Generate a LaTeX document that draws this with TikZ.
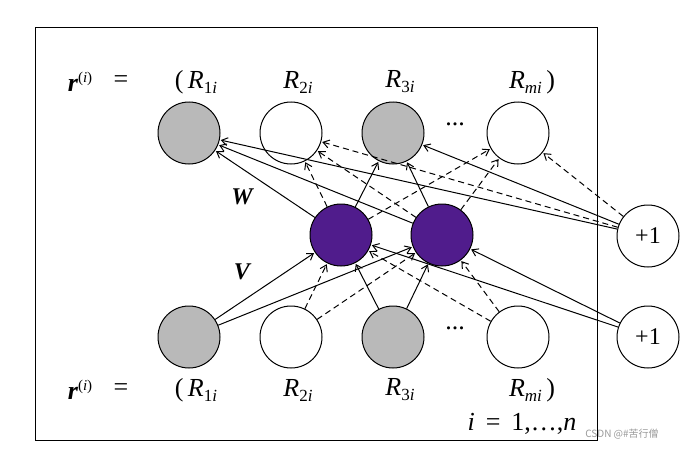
\documentclass[tikz,border=0pt]{standalone}
\usepackage{fontspec}
\setmainfont{Liberation Serif}
\newfontfamily\cjk{Noto Sans CJK SC}
\usetikzlibrary{arrows.meta}
\definecolor{hidc}{RGB}{80,28,140}
\begin{document}
\begin{tikzpicture}[x=1pt,y=-1pt,
  nd/.style={circle,draw,line width=1pt,minimum size=62pt,inner sep=0pt},
  gr/.style={nd,fill=gray!55},
  wh/.style={nd,fill=white},
  hid/.style={nd,fill=hidc},
  sl/.style={-{Straight Barb[length=6pt,width=8pt]},line width=1pt,shorten >=1pt},
  ds/.style={sl,dash pattern=on 6pt off 4pt},
  lab/.style={font=\fontsize{26}{28}\selectfont}]
\useasboundingbox (0,0) rectangle (690,452);
\draw[line width=1pt] (35,28) rectangle (597,440);
\node[gr] (t1) at (189,133) {};
\node[wh] (t2) at (291,133) {};
\node[gr] (t3) at (393,133) {};
\node[wh] (tm) at (518,133) {};
\node[hid] (h1) at (341,235) {};
\node[hid] (h2) at (442,235) {};
\node[gr] (b1) at (189,337) {};
\node[wh] (b2) at (291,337) {};
\node[gr] (b3) at (393,337) {};
\node[wh] (bm) at (518,337) {};
\node[wh,font=\fontsize{24}{26}\selectfont] (pu) at (648,236) {+1};
\node[wh,font=\fontsize{24}{26}\selectfont] (pl) at (648,337) {+1};
\node[lab] (d1) at (455,124) {...};
\node[lab] (d2) at (455,328) {...};
\foreach \h in {h1,h2}{
  \draw[sl] (b1) -- (\h); \draw[ds] (b2) -- (\h);
  \draw[sl] (b3) -- (\h); \draw[ds] (bm) -- (\h);
  \draw[sl] (pl) -- (\h);
  \draw[sl] (\h) -- (t1); \draw[ds] (\h) -- (t2);
  \draw[sl] (\h) -- (t3); \draw[ds] (\h) -- (tm);
}
\draw[sl] (pu) -- (t1); \draw[ds] (pu) -- (t2);
\draw[sl] (pu) -- (t3); \draw[ds] (pu) -- (tm);
\node[font=\fontsize{24}{26}\selectfont\bfseries\itshape] (w) at (242,197) {W};
\node[font=\fontsize{24}{26}\selectfont\bfseries\itshape] (v) at (242,272) {V};
\foreach \y/\n in {82/a,390/b}{
  \node[lab] (r\n) at (80,\y) {\textbf{\textit{r}}\raisebox{9pt}{\fontsize{15}{16}\selectfont(\textit{i})}};
  \node[lab] (e\n) at (121,\y) {=};
  \node[lab] (x1\n) at (196,\y) {(\,\textit{R}\raisebox{-5pt}{\fontsize{17}{18}\selectfont1\textit{i}}};
  \node[lab] (x2\n) at (298,\y) {\textit{R}\raisebox{-5pt}{\fontsize{17}{18}\selectfont2\textit{i}}};
  \node[lab] (x3\n) at (400,\y) {\textit{R}\raisebox{-5pt}{\fontsize{17}{18}\selectfont3\textit{i}}};
  \node[lab] (xm\n) at (532,\y) {\textit{R}\raisebox{-5pt}{\fontsize{17}{18}\selectfont\textit{mi}}\,)};
}
\node[lab] (idx) at (522,424) {\textit{i} \,=\, 1,\ldots,\textit{n}};
\node[text=gray!80,font=\cjk\fontsize{10}{11}\selectfont] (wm) at (622,434) {CSDN @\#苦行僧};
\end{tikzpicture}
\end{document}
